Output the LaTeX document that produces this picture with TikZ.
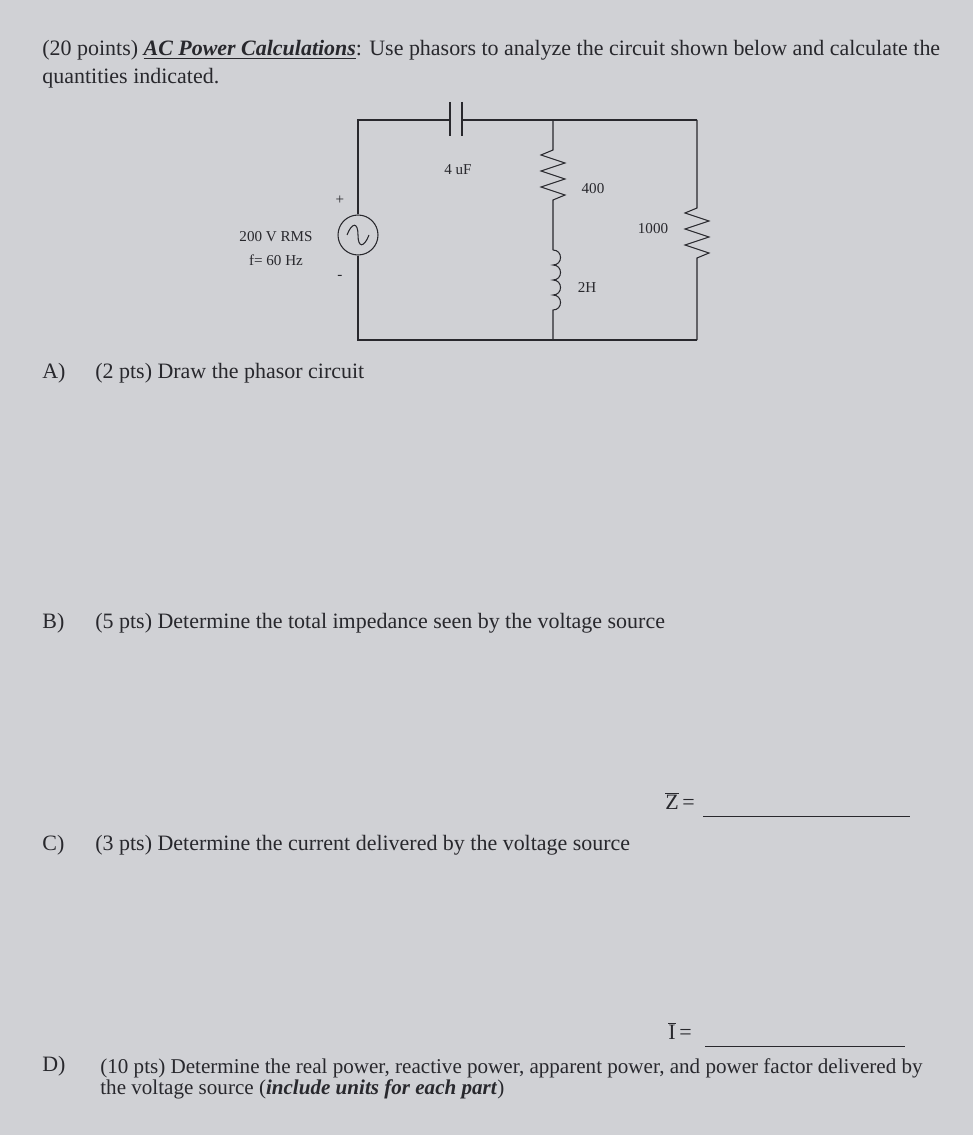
\documentclass[tikz,border=0pt]{standalone}
\usepackage{fontspec}
\setmainfont{Liberation Serif}
\definecolor{bg}{RGB}{208,209,213}
\definecolor{ink}{RGB}{40,40,45}
\begin{document}
\begin{tikzpicture}[x=0.02cm,y=-0.02cm,
  body/.style={anchor=west,inner sep=0pt,font=\fontsize{12.5}{15}\selectfont,text=ink},
  small/.style={inner sep=0pt,font=\fontsize{8.6}{10}\selectfont,text=ink},
  wire/.style={draw=ink,line width=0.6pt}]
\fill[bg] (0,0) rectangle (973,1135);
\useasboundingbox (0,0) rectangle (973,1135);
% header
\node[body] (h1) at (42,50) {(20 points) \underline{\textbf{\textit{AC Power Calculations}}}: Use phasors to analyze the circuit shown below and calculate the};
\node[body] (h2) at (42,78) {quantities indicated.};
% circuit
\coordinate (tl) at (358,120);
\coordinate (c1) at (450,120);
\coordinate (c2) at (462,120);
\coordinate (tm) at (553,120);
\coordinate (tr) at (697,120);
\coordinate (bl) at (358,340);
\coordinate (bm) at (553,340);
\coordinate (br) at (697,340);
\node[wire,circle,minimum size=0.8cm,inner sep=0pt] (src) at (358,235) {};
\draw[wire] (src.north) -- (tl) -- (c1);
\draw[wire] (c1) ++(0,-18) -- ++(0,34);
\draw[wire] (c2) ++(0,-18) -- ++(0,34);
\draw[wire] (c2) -- (tm) -- (tr);
\draw[wire] (src.south) -- (bl) -- (bm) -- (br);
\draw[wire] (347,235) .. controls (352,222) and (358,222) .. (358,235) .. controls (358,248) and (364,248) .. (369,235);
% 400 resistor
\draw[wire] (tm) -- (553,150) -- (541,155) -- (565,163) -- (541,171) -- (565,179) -- (541,187) -- (565,195) -- (553,200) -- (553,250);
% inductor
\draw[wire] (553,250) .. controls (563,250) and (563,265) .. (553,265)
  .. controls (563,265) and (563,280) .. (553,280)
  .. controls (563,280) and (563,295) .. (553,295)
  .. controls (563,295) and (563,310) .. (553,310) -- (bm);
% 1000 resistor
\draw[wire] (tr) -- (697,208) -- (685,213) -- (709,221) -- (685,229) -- (709,237) -- (685,245) -- (709,253) -- (697,258) -- (br);
\node[small] (lc) at (458,170) {4 uF};
\node[small] (l400) at (593,189) {400};
\node[small] (l1000) at (653,229) {1000};
\node[small] (l2h) at (587,287) {2H};
\node[small] (ls1) at (276,237) {200 V RMS};
\node[small] (ls2) at (276,260) {f= 60 Hz};
\node[small] (lp) at (340,200) {+};
\node[small] (lm) at (340,277) {-};
% questions
\node[body] (qa) at (42,373) {A)};
\node[body] (ta) at (95,373) {(2 pts) Draw the phasor circuit};
\node[body] (qb) at (42,623) {B)};
\node[body] (tb) at (95,623) {(5 pts) Determine the total impedance seen by the voltage source};
\node[body] (z) at (665,801) {$\overline{\mathrm{Z}}$\,=};
\coordinate (z1) at (703,816); \coordinate (z2) at (910,816);
\draw[ink,line width=0.5pt] (z1) -- (z2);
\node[body] (qc) at (42,845) {C)};
\node[body] (tc) at (95,845) {(3 pts) Determine the current delivered by the voltage source};
\node[body] (i) at (668,1031) {$\overline{\mathrm{I}}$\,=};
\coordinate (i1) at (705,1046); \coordinate (i2) at (905,1046);
\draw[ink,line width=0.5pt] (i1) -- (i2);
\node[body] (qd) at (42,1066) {D)};
\node[body,font=\fontsize{12}{15}\selectfont] (td) at (100,1068) {(10 pts) Determine the real power, reactive power, apparent power, and power factor delivered by};
\node[body,font=\fontsize{12}{15}\selectfont] (td2) at (100,1089) {the voltage source (\textbf{\textit{include units for each part}})};
\end{tikzpicture}
\end{document}
